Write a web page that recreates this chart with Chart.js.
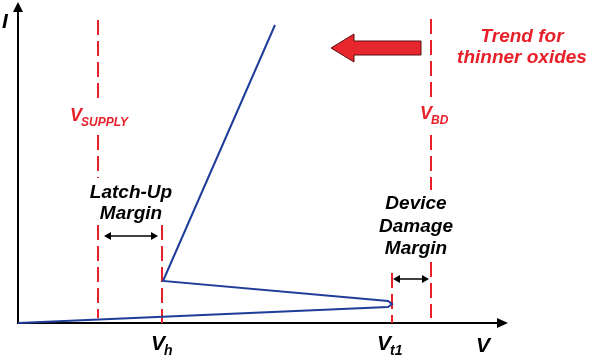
<!DOCTYPE html>
<html>
<head>
<meta charset="utf-8">
<script src="https://cdn.jsdelivr.net/npm/chart.js@4.4.1/dist/chart.umd.min.js"></script>
<style>
  html, body { margin: 0; padding: 0; background: #fff; }
  #canvas1 { display: block; }
</style>
</head>
<body>
<canvas id="canvas1" width="600" height="360"></canvas>
<script>
// snapback I-V curve, arbitrary units, (0,0) is where the axes meet
const curveV = [0, 370, 374, 370, 145, 257];
const curveI = [0, 16, 19, 22, 42, 298];

// voltage markers (red dashed lines)
const markerV = [80, 144, 374, 413];
// visible pieces of each dashed line, [from, to] in I units
const markerSegments = [
  [[303, 225], [188, 145], [98, 5]],
  [[98, 0]],
  [[50, 0]],
  [[304, 223], [188, 133], [61, 5]]
];

// margin arrows between markers
const marginFrom = [86, 375];
const marginTo = [140, 411];
const marginI = [87, 44];

// "trend for thinner oxides" arrow
const trendTipV = 313;
const trendTailV = 403;
const trendI = 275;

const RED = "#e8202a";
const BLUE = "#1f3d99";
const FONT = "'Liberation Sans', Arial, sans-serif";

const ctx1 = document.getElementById("canvas1");

const axesPlugin = {
  id: "axes",
  beforeDatasetsDraw(chart) {
    const {ctx, scales: {x, y}} = chart;
    const x0 = x.getPixelForValue(0), y0 = y.getPixelForValue(0);
    ctx.save();
    ctx.strokeStyle = "#000";
    ctx.fillStyle = "#000";
    ctx.lineWidth = 2;
    ctx.beginPath();
    ctx.moveTo(x0, y0);
    ctx.lineTo(x0, 10);
    ctx.moveTo(x0 - 1, y0);
    ctx.lineTo(498, y0);
    ctx.stroke();
    // arrow heads
    ctx.beginPath();
    ctx.moveTo(x0, 2);
    ctx.lineTo(x0 - 5, 12);
    ctx.lineTo(x0 + 5, 12);
    ctx.closePath();
    ctx.fill();
    ctx.beginPath();
    ctx.moveTo(508, y0);
    ctx.lineTo(497, y0 - 5);
    ctx.lineTo(497, y0 + 5);
    ctx.closePath();
    ctx.fill();
    ctx.restore();
  }
};

function subLabel(ctx, main, sub, px, py, size, subSize, color) {
  ctx.fillStyle = color;
  ctx.textAlign = "left";
  ctx.textBaseline = "alphabetic";
  ctx.font = "italic bold " + size + "px " + FONT;
  ctx.fillText(main, px, py);
  const w = ctx.measureText(main).width;
  ctx.font = "italic bold " + subSize + "px " + FONT;
  ctx.fillText(sub, px + w - 1, py + 5);
}

function lines(ctx, texts, px, py, step, size, color) {
  ctx.fillStyle = color;
  ctx.textAlign = "center";
  ctx.textBaseline = "alphabetic";
  ctx.font = "italic bold " + size + "px " + FONT;
  texts.forEach((t, i) => ctx.fillText(t, px, py + i * step));
}

function doubleArrow(ctx, xa, xb, yy) {
  ctx.strokeStyle = "#000";
  ctx.fillStyle = "#000";
  ctx.lineWidth = 1.5;
  ctx.beginPath();
  ctx.moveTo(xa + 4, yy);
  ctx.lineTo(xb - 4, yy);
  ctx.stroke();
  ctx.beginPath();
  ctx.moveTo(xa, yy);
  ctx.lineTo(xa + 7, yy - 4);
  ctx.lineTo(xa + 7, yy + 4);
  ctx.closePath();
  ctx.moveTo(xb, yy);
  ctx.lineTo(xb - 7, yy - 4);
  ctx.lineTo(xb - 7, yy + 4);
  ctx.closePath();
  ctx.fill();
}

const overlayPlugin = {
  id: "overlay",
  afterDatasetsDraw(chart) {
    const {ctx, scales: {x, y}} = chart;
    const px = v => x.getPixelForValue(v);
    const py = i => y.getPixelForValue(i);
    ctx.save();

    // axis titles
    ctx.fillStyle = "#000";
    ctx.font = "italic bold 21px " + FONT;
    ctx.textAlign = "left";
    ctx.fillText("I", px(-16), py(295));
    ctx.fillText("V", px(458), py(-29));

    // marker labels
    subLabel(ctx, "V", "SUPPLY", px(52), py(202), 18, 12, RED);
    subLabel(ctx, "V", "BD", px(402), py(204), 18, 12, RED);
    subLabel(ctx, "V", "h", px(133), py(-27), 21, 14, "#000");
    subLabel(ctx, "V", "t1", px(359), py(-27), 21, 14, "#000");

    // annotations
    lines(ctx, ["Trend for", "thinner oxides"], px(504), py(281), 21, 19, RED);
    lines(ctx, ["Latch-Up", "Margin"], px(113), py(125), 21, 19, "#000");
    lines(ctx, ["Device", "Damage", "Margin"], px(398), py(114), 22.5, 19, "#000");

    // margin arrows
    marginFrom.forEach((v, k) => doubleArrow(ctx, px(v), px(marginTo[k]), py(marginI[k])));

    // big red trend arrow
    const xt = px(trendTipV), xe = px(trendTailV), yc = py(trendI);
    ctx.beginPath();
    ctx.moveTo(xt, yc);
    ctx.lineTo(xt + 23, yc - 14);
    ctx.lineTo(xt + 23, yc - 7);
    ctx.lineTo(xe, yc - 7);
    ctx.lineTo(xe, yc + 7);
    ctx.lineTo(xt + 23, yc + 7);
    ctx.lineTo(xt + 23, yc + 14);
    ctx.closePath();
    ctx.fillStyle = "#e8262d";
    ctx.fill();
    ctx.strokeStyle = "#5a1010";
    ctx.lineWidth = 1;
    ctx.stroke();

    ctx.restore();
  }
};

function main() {
  const datasets = [{
    data: curveV.map((v, i) => ({x: v, y: curveI[i]})),
    borderColor: BLUE,
    borderWidth: 2,
    pointRadius: 0,
    tension: 0,
    order: 1
  }];

  markerSegments.forEach((segs, k) => {
    segs.forEach(seg => {
      datasets.push({
        data: seg.map(i => ({x: markerV[k], y: i})),
        borderColor: RED,
        borderWidth: 2,
        borderDash: [15, 6],
        pointRadius: 0,
        order: 2
      });
    });
  });

  new Chart(ctx1, {
    type: "line",
    data: {datasets: datasets},
    options: {
      responsive: false,
      animation: false,
      layout: {padding: 0},
      plugins: {legend: {display: false}, tooltip: {enabled: false}},
      scales: {
        x: {type: "linear", display: false, min: -18, max: 582},
        y: {type: "linear", display: false, min: -37, max: 323}
      }
    },
    plugins: [axesPlugin, overlayPlugin]
  });
}

main();
</script>
</body>
</html>
